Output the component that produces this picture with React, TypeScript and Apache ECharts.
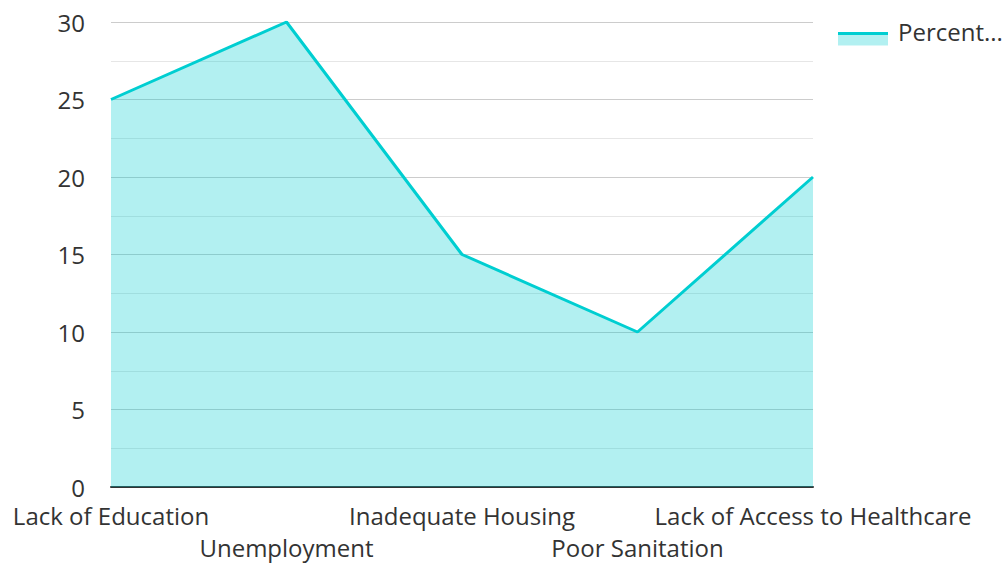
import React, { useEffect, useRef } from "react";
import * as echarts from "echarts";

const categories = [
  "Lack of Education",
  "Unemployment",
  "Inadequate Housing",
  "Poor Sanitation",
  "Lack of Access to Healthcare",
];
const seriesName = "Percentage of Population";
const values = [25, 30, 15, 10, 20];
const yTicks = [0, 5, 10, 15, 20, 25, 30];

const LINE = "#00CED1";
const AREA = "rgba(0,206,209,0.3)";

export default function App() {
  const ref = useRef<HTMLDivElement>(null);
  useEffect(() => {
    if (!ref.current) return;
    const chart = echarts.init(ref.current, undefined, { renderer: "svg" });
    const font = "'Open Sans', 'Noto Sans', sans-serif";
    chart.setOption({
      animation: false,
      textStyle: { fontFamily: font },
      legend: {
        data: [seriesName],
        left: 838,
        top: 19,
        padding: 0,
        icon: "rect",
        itemWidth: 55,
        itemHeight: 14,
        itemGap: 10,
        itemStyle: { color: "rgba(0,0,0,0)", borderWidth: 0 },
        textStyle: {
          fontSize: 24,
          color: "#333",
          fontFamily: font,
          width: 110,
          overflow: "truncate",
          ellipsis: "...",
        },
      },
      graphic: [
        {
          type: "rect",
          left: 838,
          top: 34,
          shape: { width: 50, height: 11.5 },
          style: { fill: AREA },
          silent: true,
        },
        {
          type: "line",
          shape: { x1: 838, y1: 33.5, x2: 888, y2: 33.5 },
          style: { stroke: LINE, lineWidth: 3 },
          silent: true,
        },
      ],
      grid: { left: 111, right: 194, top: 22, bottom: 74, containLabel: false },
      xAxis: {
        type: "category",
        data: categories,
        boundaryGap: false,
        axisLine: { lineStyle: { color: "#333", width: 2 } },
        axisTick: { show: false },
        axisLabel: {
          interval: 0,
          fontSize: 24,
          color: "#333",
          fontFamily: font,
          margin: 12,
          lineHeight: 32,
          formatter: (v: string, i: number) => (i % 2 === 1 ? "\n" + v : v),
        },
      },
      yAxis: {
        type: "value",
        min: yTicks[0],
        max: yTicks[yTicks.length - 1],
        interval: 5,
        axisLine: { show: false },
        axisTick: { show: false },
        axisLabel: { fontSize: 24, color: "#333", fontFamily: font, margin: 26 },
        splitLine: { lineStyle: { color: "#ccc", width: 1 } },
        minorTick: { show: false, splitNumber: 2 },
        minorSplitLine: { show: true, lineStyle: { color: "#e6e6e6", width: 1 } },
      },
      series: [
        {
          name: seriesName,
          type: "line",
          data: values,
          symbol: "none",
          lineStyle: { color: LINE, width: 3 },
          itemStyle: { color: LINE },
          areaStyle: { color: LINE, opacity: 0.3 },
        },
      ],
    });
    return () => chart.dispose();
  }, []);
  return <div ref={ref} style={{ width: 1007, height: 563, position: "absolute", left: 0, top: 0 }} />;
}
